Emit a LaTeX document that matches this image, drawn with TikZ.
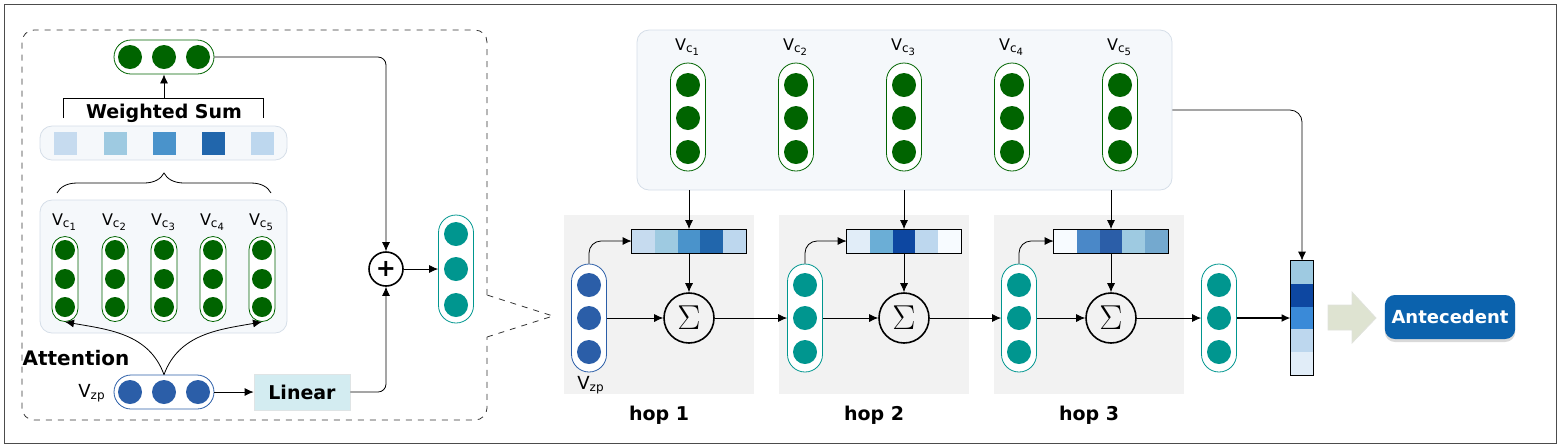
\documentclass[tikz,border=0pt]{standalone}
\usepackage{fontspec}
\setmainfont{DejaVu Sans}
\usetikzlibrary{positioning,decorations.pathreplacing,shadows,arrows.meta}
\definecolor{dgreen}{HTML}{006400}
\definecolor{dblue}{HTML}{2B5EA8}
\definecolor{teal2}{HTML}{00968F}
\definecolor{panel}{HTML}{F5F8FB}
\definecolor{panelb}{HTML}{D5DEE8}
\definecolor{hopbg}{HTML}{F2F2F2}
\definecolor{lincol}{HTML}{D3ECF1}
\definecolor{antcol}{HTML}{0B62AD}
\definecolor{fatcol}{HTML}{DEE3D1}
\definecolor{wA}{HTML}{C6DBEF}
\definecolor{wB}{HTML}{9ECAE1}
\definecolor{wC}{HTML}{4A93CB}
\definecolor{wD}{HTML}{2166AC}
\definecolor{wE}{HTML}{BDD7EE}
\definecolor{wF}{HTML}{E1EDF8}
\definecolor{wG}{HTML}{6BAED6}
\definecolor{wH}{HTML}{0D47A1}
\definecolor{wI}{HTML}{F7FBFF}
\definecolor{wJ}{HTML}{4A88C8}
\definecolor{wK}{HTML}{74A9CF}
\definecolor{wL}{HTML}{3A8AD8}
\begin{document}
\begin{tikzpicture}[x=0.5pt,y=-0.5pt,>={Latex[length=4.5pt,width=4pt]},
  pill/.style={draw=#1, fill=white, rounded corners=6.5pt, inner sep=0},
  hpill/.style={pill=#1, minimum width=50pt, minimum height=17pt, rounded corners=8.5pt},
  vpill/.style={pill=#1, minimum width=13pt, minimum height=42.5pt},
  rpill/.style={pill=#1, minimum width=17.5pt, minimum height=54pt, rounded corners=8.75pt},
  dot/.style={circle, fill=#1, minimum size=12pt, inner sep=0},
  sdot/.style={circle, fill=#1, minimum size=10pt, inner sep=0},
  box/.style={draw=panelb, fill=panel, rounded corners=6pt},
  lab/.style={font=\fontsize{8}{9}\selectfont},
  btext/.style={font=\fontsize{9.5}{11}\selectfont\bfseries},
  sig/.style={circle, draw, thick, minimum size=25pt, inner sep=0, font=\LARGE},
  cell/.style={minimum width=11.5pt, minimum height=11.5pt, inner sep=0}]
\useasboundingbox (0,0) rectangle (1561,447);
\draw[black!70] (4,4) rectangle (1556,443);

% left panel
\draw[dashed, black!80, rounded corners=6pt] (487,295) -- (487,30) -- (22,30) -- (22,420) -- (487,420) -- (487,337);
\draw[dashed, black!80] (487,337) -- (553,316) -- (487,295);

\node[hpill=dgreen] (wsum) at (164,57) {};
\foreach \x in {130,164,198} \node[dot=dgreen] at (\x,57) {};
\draw (63,118) -- (63,98) -- (263,98) -- (263,118);
\draw[->] (164,98) -- (wsum.south);
\node[btext] at (164,113) {Weighted Sum};

\draw[box] (40,126) rectangle (287,160);
\foreach \x/\c in {65/wA,115/wB,164/wC,213/wD,262/wE}
  \node[cell, fill=\c] at (\x,143) {};
\draw[decorate, decoration={brace, amplitude=10pt}] (57,193) -- (271,193);

\draw[box] (40,200) rectangle (287,333);
\foreach \x [count=\i] in {65,115,164,213,262} {
  \node[lab] at (\x,222) {V\textsubscript{c\textsubscript{\i}}};
  \node[vpill=dgreen] (c\i) at (\x,279) {};
  \foreach \y in {250,279,307} \node[sdot=dgreen] at (\x,\y) {};
}
\node[btext, font=\fontsize{10}{11}\selectfont\bfseries] at (76,358) {Attention};
\node[lab, font=\fontsize{9}{10}\selectfont] at (92,393) {V\textsubscript{zp}};
\node[hpill=dblue] (vzp) at (164,392) {};
\foreach \x in {130,164,198} \node[dot=dblue] at (\x,392) {};
\draw[->] (vzp.north) to[out=110, in=-10] (c1.south);
\draw[->] (vzp.north) to[out=70, in=190] (c5.south);

\node[draw=lincol!70!black!30, fill=lincol, minimum width=48pt, minimum height=18pt, btext] (lin) at (302,392) {Linear};
\draw[->] (vzp.east) -- (lin.west);
\node[circle, draw, thick, minimum size=17pt, inner sep=0, font=\large\bfseries] (plus) at (386,269) {+};
\draw[->, rounded corners=4pt] (wsum.east) -| (plus.north);
\draw[->, rounded corners=4pt] (lin.east) -| (plus.south);
\node[rpill=teal2] (att) at (456,269) {};
\foreach \y in {234,269,305} \node[dot=teal2] at (456,\y) {};
\draw[->] (plus.east) -- (att.west);

% right part: candidates
\draw[box] (637,30) rectangle (1172,190);
\node (top) at (904.5,110) [minimum width=267.5pt, minimum height=80pt, inner sep=0] {};
\foreach \x [count=\i] in {688,796,904,1012,1120} {
  \node[lab] at (\x,47) {V\textsubscript{c\textsubscript{\i}}};
  \node[rpill=dgreen] (r\i) at (\x,117) {};
  \foreach \y in {85,118,152} \node[dot=dgreen] at (\x,\y) {};
}

% hops
\foreach \x [count=\i] in {564,779,994} {
  \fill[hopbg] (\x,215) rectangle ++(190,179);
  \node[btext] at (\x+95,415) {hop \i};
}

\node[rpill=dblue] (p1) at (589,318) {};
\foreach \y in {285,318,352} \node[dot=dblue] at (589,\y) {};
\node[lab, font=\fontsize{9}{10}\selectfont] at (591,385) {V\textsubscript{zp}};
\node[rpill=teal2] (p2) at (805,318) {};
\node[rpill=teal2] (p3) at (1019,318) {};
\node[rpill=teal2] (p4) at (1219,318) {};
\foreach \x in {805,1019,1219}
  \foreach \y in {285,318,352} \node[dot=teal2] at (\x,\y) {};

\foreach \i/\x/\cols in {1/689/{wA,wB,wC,wD,wE}, 2/904/{wF,wG,wH,wE,wI}, 3/1111/{wI,wJ,dblue,wB,wK}} {
  \node[draw, minimum width=57pt, minimum height=11.5pt, inner sep=0] (b\i) at (\x,241) {};
  \foreach \c [count=\k] in \cols
    \fill[\c] (\x-57+\k*22.8-22.8,229.5) rectangle ++(22.8,23);
  \draw (b\i.south west) rectangle (b\i.north east);
  \node[sig] (s\i) at (\x,318) {$\Sigma$};
  \draw[->] (b\i.north |- top.south) -- (b\i.north);
  \draw[->] (b\i.south) -- (s\i.north);
}
\draw[->, rounded corners=6pt] (p1.north) |- (b1.west);
\draw[->, rounded corners=6pt] (p2.north) |- (b2.west);
\draw[->, rounded corners=6pt] (p3.north) |- (b3.west);
\draw[->] (p1.east) -- (s1.west);
\draw[->] (s1.east) -- (p2.west);
\draw[->] (p2.east) -- (s2.west);
\draw[->] (s2.east) -- (p3.west);
\draw[->] (p3.east) -- (s3.west);
\draw[->] (s3.east) -- (p4.west);

% final scores
\node[minimum width=11pt, minimum height=57pt, inner sep=0] (fb) at (1302,318) {};
\foreach \c [count=\k] in {wB,wH,wL,wE,wF}
  \fill[\c] (1291,261+\k*22.8-22.8) rectangle ++(22,22.8);
\draw (fb.south west) rectangle (fb.north east);
\draw[->, very thick] (p4.east) -- (fb.west);
\draw[->, rounded corners=6pt] (top.east) -| (fb.north);

\draw[fill=fatcol, draw=fatcol!80!black!40] (1328,305) -- (1352,305) -- (1352,292) -- (1376,318) -- (1352,343) -- (1352,330) -- (1328,330) -- cycle;
\node[fill=antcol, text=white, rounded corners=5pt, minimum width=59.5pt, minimum height=22pt, drop shadow={shadow xshift=0pt, shadow yshift=-1.5pt, opacity=0.3}, font=\fontsize{9}{10}\selectfont\bfseries] (ant) at (1450,317) {Antecedent};
\end{tikzpicture}
\end{document}
